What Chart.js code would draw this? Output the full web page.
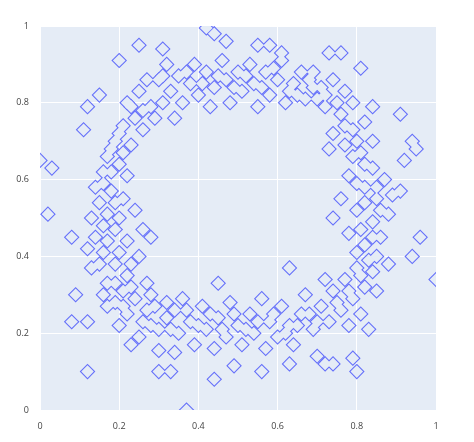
<!DOCTYPE html>
<html><head><meta charset="utf-8">
<script src="https://cdn.jsdelivr.net/npm/chart.js@4/dist/chart.umd.min.js"></script>
<style>html,body{margin:0;padding:0;background:#fff}#w{width:474px;height:442px}</style>
</head><body><div id="w"><canvas id="c"></canvas></div>
<script>
const xTicks=[0,0.2,0.4,0.6,0.8,1];
const yTicks=[0,0.2,0.4,0.6,0.8,1];
const outliers=[[0,0.65],[0.02,0.51],[0.03,0.63],[0.08,0.45],[0.09,0.30],[0.08,0.23],[0.12,0.23],[0.12,0.10],[0.12,0.79],[0.15,0.82],[0.11,0.73],[0.2,0.91],[0.25,0.95],[0.31,0.94],[0.42,0.995],[0.44,0.98],[0.47,0.96],[0.55,0.95],[0.58,0.95],[0.61,0.93],[0.73,0.93],[0.76,0.93],[0.81,0.89],[0.84,0.79],[0.91,0.77],[0.94,0.70],[0.95,0.68],[0.92,0.65],[0.91,0.57],[0.96,0.45],[0.94,0.40],[1.0,0.34],[0.88,0.38],[0.85,0.31],[0.83,0.21],[0.79,0.135],[0.80,0.10],[0.70,0.14],[0.72,0.12],[0.74,0.12],[0.56,0.10],[0.63,0.12],[0.49,0.115],[0.44,0.08],[0.37,0.0],[0.30,0.155],[0.34,0.15],[0.33,0.10],[0.30,0.10],[0.23,0.17],[0.20,0.22],[0.17,0.27]];
const ring=[[0.30,0.86],[0.32,0.90],[0.33,0.83],[0.35,0.87],[0.36,0.80],[0.38,0.85],[0.39,0.90],[0.40,0.82],[0.42,0.88],[0.43,0.79],[0.44,0.84],[0.46,0.91],[0.47,0.86],[0.48,0.80],[0.50,0.88],[0.51,0.83],[0.53,0.90],[0.54,0.85],[0.55,0.79],[0.57,0.88],[0.58,0.82],[0.60,0.86],[0.61,0.91],[0.62,0.80],[0.64,0.85],[0.66,0.88],[0.67,0.81],[0.69,0.84],
[0.22,0.80],[0.25,0.83],[0.27,0.86],[0.28,0.79],[0.24,0.76],[0.21,0.74],[0.26,0.73],[0.19,0.70],[0.23,0.69],[0.17,0.66],[0.20,0.64],[0.29,0.76],[0.16,0.62],[0.22,0.61],[0.31,0.80],
[0.14,0.58],[0.18,0.57],[0.15,0.54],[0.21,0.55],[0.13,0.50],[0.17,0.51],[0.24,0.52],[0.19,0.47],[0.14,0.45],[0.22,0.44],[0.16,0.41],[0.25,0.40],[0.19,0.38],[0.13,0.37],[0.22,0.35],[0.26,0.47],[0.12,0.42],
[0.17,0.33],[0.21,0.31],[0.24,0.29],[0.19,0.28],[0.27,0.33],[0.22,0.25],[0.26,0.23],[0.29,0.27],[0.25,0.19],[0.30,0.21],[0.28,0.30],[0.32,0.24],[0.16,0.30],
[0.34,0.26],[0.35,0.20],[0.36,0.29],[0.38,0.23],[0.39,0.17],[0.41,0.27],[0.42,0.21],[0.44,0.16],[0.45,0.24],[0.47,0.19],[0.48,0.28],[0.50,0.22],[0.51,0.17],[0.53,0.25],[0.54,0.20],[0.56,0.29],[0.57,0.16],[0.58,0.23],[0.60,0.19],[0.61,0.27],[0.63,0.22],[0.64,0.17],[0.66,0.25],[0.67,0.30],[0.69,0.21],
[0.71,0.27],[0.73,0.23],[0.74,0.31],[0.76,0.26],[0.77,0.34],[0.79,0.29],[0.80,0.37],[0.82,0.32],[0.78,0.22],[0.84,0.36],[0.72,0.34],[0.81,0.25],[0.85,0.40],
[0.82,0.43],[0.86,0.45],[0.78,0.46],[0.84,0.49],[0.88,0.51],[0.80,0.52],[0.76,0.55],[0.85,0.55],[0.82,0.58],[0.87,0.60],[0.78,0.61],[0.84,0.63],[0.74,0.50],[0.80,0.41],[0.89,0.56],
[0.81,0.67],[0.77,0.69],[0.84,0.70],[0.79,0.73],[0.74,0.72],[0.82,0.75],[0.76,0.77],[0.72,0.79],[0.79,0.80],[0.71,0.84],[0.74,0.86],[0.69,0.88],[0.77,0.83],[0.73,0.68],
[0.34,0.76],[0.63,0.37],[0.45,0.33],[0.28,0.45],
[0.31,0.87],[0.37,0.88],[0.41,0.85],[0.45,0.87],[0.49,0.84],[0.52,0.87],[0.56,0.84],[0.59,0.89],[0.63,0.83],[0.65,0.82],[0.68,0.86],[0.70,0.81],
[0.23,0.79],[0.26,0.78],[0.20,0.72],[0.18,0.68],[0.21,0.67],[0.18,0.62],[0.16,0.59],[0.19,0.54],[0.16,0.48],[0.20,0.50],[0.17,0.44],[0.20,0.41],[0.15,0.38],[0.23,0.38],
[0.19,0.33],[0.23,0.32],[0.21,0.27],[0.27,0.26],[0.28,0.22],[0.32,0.28],[0.33,0.21],[0.37,0.26],[0.40,0.22],[0.43,0.25],[0.46,0.21],[0.49,0.25],[0.52,0.21],[0.55,0.23],[0.59,0.25],[0.62,0.20],[0.65,0.22],[0.68,0.25],
[0.70,0.23],[0.75,0.28],[0.78,0.31],[0.81,0.35],[0.83,0.39],[0.84,0.45],[0.81,0.47],[0.86,0.52],[0.82,0.54],[0.80,0.59],[0.85,0.58],[0.82,0.64],[0.79,0.66],[0.80,0.70],[0.77,0.74],[0.75,0.80],[0.72,0.82]];
const pts=outliers.concat(ring).map(p=>({x:p[0],y:p[1]}));
const BG='#e5ecf6', LINE='#636efa';
const bgPlugin={id:'bg',beforeDraw(ch){const a=ch.chartArea,c=ch.ctx;c.save();c.fillStyle=BG;c.fillRect(a.left,a.top,a.right-a.left,a.bottom-a.top);c.restore();}};
const fmt=v=>v===0?'0':v===1?'1':v.toFixed(1);
new Chart(document.getElementById('c'),{type:'scatter',
data:{datasets:[
{data:pts,pointStyle:'rectRot',pointRadius:6.3,backgroundColor:BG,borderWidth:0,order:0,clip:0},
{data:pts,pointStyle:'rectRot',pointRadius:7.8,backgroundColor:LINE,borderWidth:0,order:1,clip:0}]},
options:{responsive:true,maintainAspectRatio:false,animation:false,
layout:{padding:{top:26,right:38,left:0,bottom:0}},
plugins:{legend:{display:false},tooltip:{enabled:false}},
scales:{
x:{min:0,max:1,afterBuildTicks:s=>{s.ticks=xTicks.map(v=>({value:v}))},afterFit:s=>{s.height=32},
 ticks:{callback:fmt,color:'#444',font:{size:9,family:'Open Sans'},maxRotation:0},grid:{color:'#fff',lineWidth:1},border:{display:false}},
y:{min:0,max:1,afterBuildTicks:s=>{s.ticks=yTicks.map(v=>({value:v}))},afterFit:s=>{s.width=40},
 ticks:{callback:fmt,color:'#444',font:{size:9,family:'Open Sans'}},grid:{color:'#fff',lineWidth:1},border:{display:false}}}},
plugins:[bgPlugin]});
</script></body></html>
